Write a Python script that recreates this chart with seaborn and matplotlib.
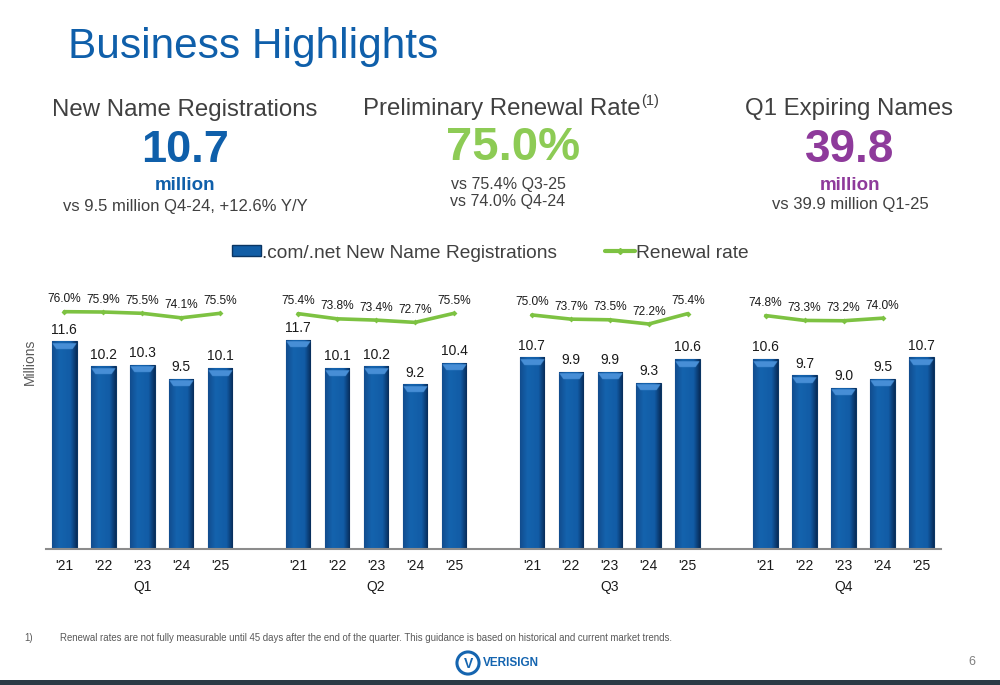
import numpy as np
import pandas as pd
import matplotlib
matplotlib.use("Agg")
import matplotlib.pyplot as plt
import matplotlib.transforms as mtransforms
from matplotlib.patches import Patch, Rectangle, Circle
from matplotlib.lines import Line2D
import seaborn as sns

# ---------------- data ----------------
quarters = ["Q1", "Q2", "Q3", "Q4"]
years = ["'21", "'22", "'23", "'24", "'25"]
reg_q1 = [11.6, 10.2, 10.3, 9.5, 10.1]
reg_q2 = [11.7, 10.1, 10.2, 9.2, 10.4]
reg_q3 = [10.7, 9.9, 9.9, 9.3, 10.6]
reg_q4 = [10.6, 9.7, 9.0, 9.5, 10.7]
rate_q1 = [76.0, 75.9, 75.5, 74.1, 75.5]
rate_q2 = [75.4, 73.8, 73.4, 72.7, 75.5]
rate_q3 = [75.0, 73.7, 73.5, 72.2, 75.4]
rate_q4 = [74.8, 73.3, 73.2, 74.0]

regs = [reg_q1, reg_q2, reg_q3, reg_q4]
rates = [rate_q1, rate_q2, rate_q3, rate_q4]

rows = []
for g, q in enumerate(quarters):
    for i, y in enumerate(years):
        rows.append(dict(quarter=q, year=y, pos=g * 6 + i, reg=regs[g][i],
                         rate=rates[g][i] if i < len(rates[g]) else np.nan))
df = pd.DataFrame(rows)

# ---------------- style ----------------
sns.set_theme(style="white")
plt.rcParams["font.family"] = ["Liberation Sans", "DejaVu Sans"]

BLUE = "#125EA6"
GREEN = "#7DC242"
PURPLE = "#8E3A9B"
GRAY = "#404040"
TBLUE = "#0F5FAA"

W, H = 1000, 685
fig = plt.figure(figsize=(10, 6.85), dpi=100)
fig.patch.set_facecolor("white")

def fx(x):
    return x / W

def fy(y):
    return 1 - y / H

ax_left, ax_right, ax_top, ax_bot = 46, 941, 280, 549
ax = fig.add_axes([fx(ax_left), fy(ax_bot), (ax_right - ax_left) / W, (ax_bot - ax_top) / H])

sns.barplot(data=df, x="pos", y="reg", native_scale=True, width=0.63, color=BLUE,
            saturation=1, errorbar=None, ax=ax, edgecolor="#0A3563", linewidth=0.8)

xlim = (-0.47, 22.5)
ylim = (0, 15.03)

# bevel-like gradient shading for the bars
col_stops = np.array([[0.07, 0.30, 0.56], [0.08, 0.39, 0.68], [0.07, 0.36, 0.65], [0.03, 0.18, 0.36]])
nx = 40
xs = np.linspace(0, 1, nx)
stop_pos = np.array([0.0, 0.3, 0.75, 1.0])
grad = np.stack([np.interp(xs, stop_pos, col_stops[:, c]) for c in range(3)], axis=-1)
for p in list(ax.patches):
    x0, y0 = p.get_x(), p.get_y()
    w, h = p.get_width(), p.get_height()
    ny = max(int(h * 40), 2)
    img = np.repeat(grad[None, :, :], ny, axis=0)
    ys = np.linspace(h, 0, ny)
    band = (ys < h - 0.12) & (ys > h - 0.45)
    for j in np.where(band)[0]:
        inset = (h - ys[j] - 0.12) / 0.33 * 0.18
        m = (xs > inset) & (xs < 1 - inset)
        img[j, m] = np.array([0.28, 0.56, 0.84])
    im = ax.imshow(img, extent=[x0, x0 + w, y0, y0 + h], aspect="auto",
                   interpolation="bilinear", zorder=p.get_zorder() + 0.1)
    im.set_clip_path(p)

for _, r in df.iterrows():
    ax.annotate(f"{r.reg:.1f}", (r.pos, r.reg), xytext=(0, 8.5), textcoords="offset points",
                ha="center", va="center", fontsize=10, color="#1a1a1a")

ax.set_xlim(*xlim)
ax.set_ylim(*ylim)
ax.set_xticks(df["pos"])
ax.set_xticklabels(df["year"])
ax.tick_params(axis="x", length=0, pad=7, labelsize=10, labelcolor="#1a1a1a")
ax.set_yticks([])
ax.set_xlabel("")
ax.set_ylabel("")
for s in ["top", "right", "left"]:
    ax.spines[s].set_visible(False)
ax.spines["bottom"].set_color("#8C8C8C")
ax.spines["bottom"].set_linewidth(1.5)

trans = mtransforms.blended_transform_factory(ax.transData, ax.transAxes)
for g, q in enumerate(quarters):
    ax.text(g * 6 + 2, -(587 - ax_bot) / (ax_bot - ax_top), q, transform=trans,
            ha="center", va="center", fontsize=10, color="#1a1a1a")

# renewal-rate lines on twin axis
ax2 = ax.twinx()
for g, q in enumerate(quarters):
    sub = df[(df.quarter == q) & df.rate.notna()]
    sns.lineplot(data=sub, x="pos", y="rate", ax=ax2, color=GREEN, linewidth=2.6,
                 marker="D", markersize=3, markeredgewidth=0, legend=False)
    for _, r in sub.iterrows():
        ax2.annotate(f"{r.rate:.1f}%", (r.pos, r.rate), xytext=(0, 9), textcoords="offset points",
                     ha="center", va="center", fontsize=8.6, color="#1a1a1a")
ax2.set_ylim(2.76, 85.78)
ax2.set_xlim(*xlim)
ax2.set_yticks([])
ax2.set_ylabel("")
for s in ax2.spines.values():
    s.set_visible(False)

fig.text(fx(30), fy(362), "Millions", rotation=90, ha="center", va="center",
         fontsize=10, color="#595959")

# legend
handles = [Patch(facecolor=BLUE, edgecolor="#0A3563"),
           Line2D([0], [0], color=GREEN, lw=3, marker="D", ms=3)]
fig.legend(handles=handles, labels=[".com/.net New Name Registrations", "Renewal rate"],
           loc="center", bbox_to_anchor=(fx(490), fy(253)), ncol=2, frameon=False,
           fontsize=13.8, handlelength=1.55, handleheight=0.5, handletextpad=0.05,
           columnspacing=2.5, labelcolor=GRAY)

# ---------------- header ----------------
fig.text(fx(253.5), fy(58), "Business Highlights", ha="center", va="baseline", fontsize=30.5, color=TBLUE)

fig.text(fx(185), fy(110), "New Name Registrations", ha="center", va="center", fontsize=17.3, color=GRAY)
fig.text(fx(185), fy(150), "10.7", ha="center", va="center", fontsize=32.5, fontweight="bold", color=TBLUE)
fig.text(fx(185), fy(186), "million", ha="center", va="center", fontsize=13.5, fontweight="bold", color=TBLUE)
fig.text(fx(185), fy(206), "vs 9.5 million Q4-24, +12.6% Y/Y", ha="center", va="center", fontsize=12, color=GRAY)

t = fig.text(fx(502), fy(109), "Preliminary Renewal Rate", ha="center", va="center", fontsize=17.3, color=GRAY)
ax.annotate("(1)", xy=(1.0, 0.55), xycoords=t, ha="left", va="bottom", fontsize=10.5,
            color=GRAY, annotation_clip=False)
fig.text(fx(513), fy(148), "75.0%", ha="center", va="center", fontsize=34, fontweight="bold", color="#8DCB55")
fig.text(fx(508), fy(184), "vs 75.4% Q3-25", ha="center", va="center", fontsize=11.5, color=GRAY)
fig.text(fx(508), fy(202), "vs 74.0% Q4-24", ha="center", va="center", fontsize=11.5, color=GRAY)

fig.text(fx(849), fy(109), "Q1 Expiring Names", ha="center", va="center", fontsize=17.3, color=GRAY)
fig.text(fx(850), fy(150), "39.8", ha="center", va="center", fontsize=33, fontweight="bold", color=PURPLE)
fig.text(fx(850), fy(185), "million", ha="center", va="center", fontsize=13.5, fontweight="bold", color=PURPLE)
fig.text(fx(850), fy(205), "vs 39.9 million Q1-25", ha="center", va="center", fontsize=12, color=GRAY)

# ---------------- footer ----------------
fig.text(fx(24), fy(638), "1)", ha="left", va="center", fontsize=6.9, color="#595959")
fig.text(fx(60), fy(638), "Renewal rates are not fully measurable until 45 days after the end of the quarter. "
         "This guidance is based on historical and current market trends.",
         ha="left", va="center", fontsize=6.9, color="#595959")
fig.text(fx(972), fy(662), "6", ha="center", va="center", fontsize=9, color="#7F7F7F")

lax = fig.add_axes([fx(455), fy(676), 26 / W, 26 / H])
lax.set_xlim(-1, 1)
lax.set_ylim(-1, 1)
lax.set_aspect("equal")
lax.axis("off")
lax.add_patch(Circle((0, 0), 0.85, fill=False, edgecolor="#1565B0", linewidth=2.2))
lax.text(0.02, -0.05, "V", ha="center", va="center", fontsize=10, fontweight="bold", color="#1565B0")
fig.text(fx(483), fy(663), "VERISIGN", ha="left", va="center", fontsize=8.5, fontweight="bold", color="#1565B0")

fig.add_artist(Rectangle((0, 0), 1, 5 / H, transform=fig.transFigure, color="#2B3A45", lw=0))

fig.savefig("out.png", dpi=100)
